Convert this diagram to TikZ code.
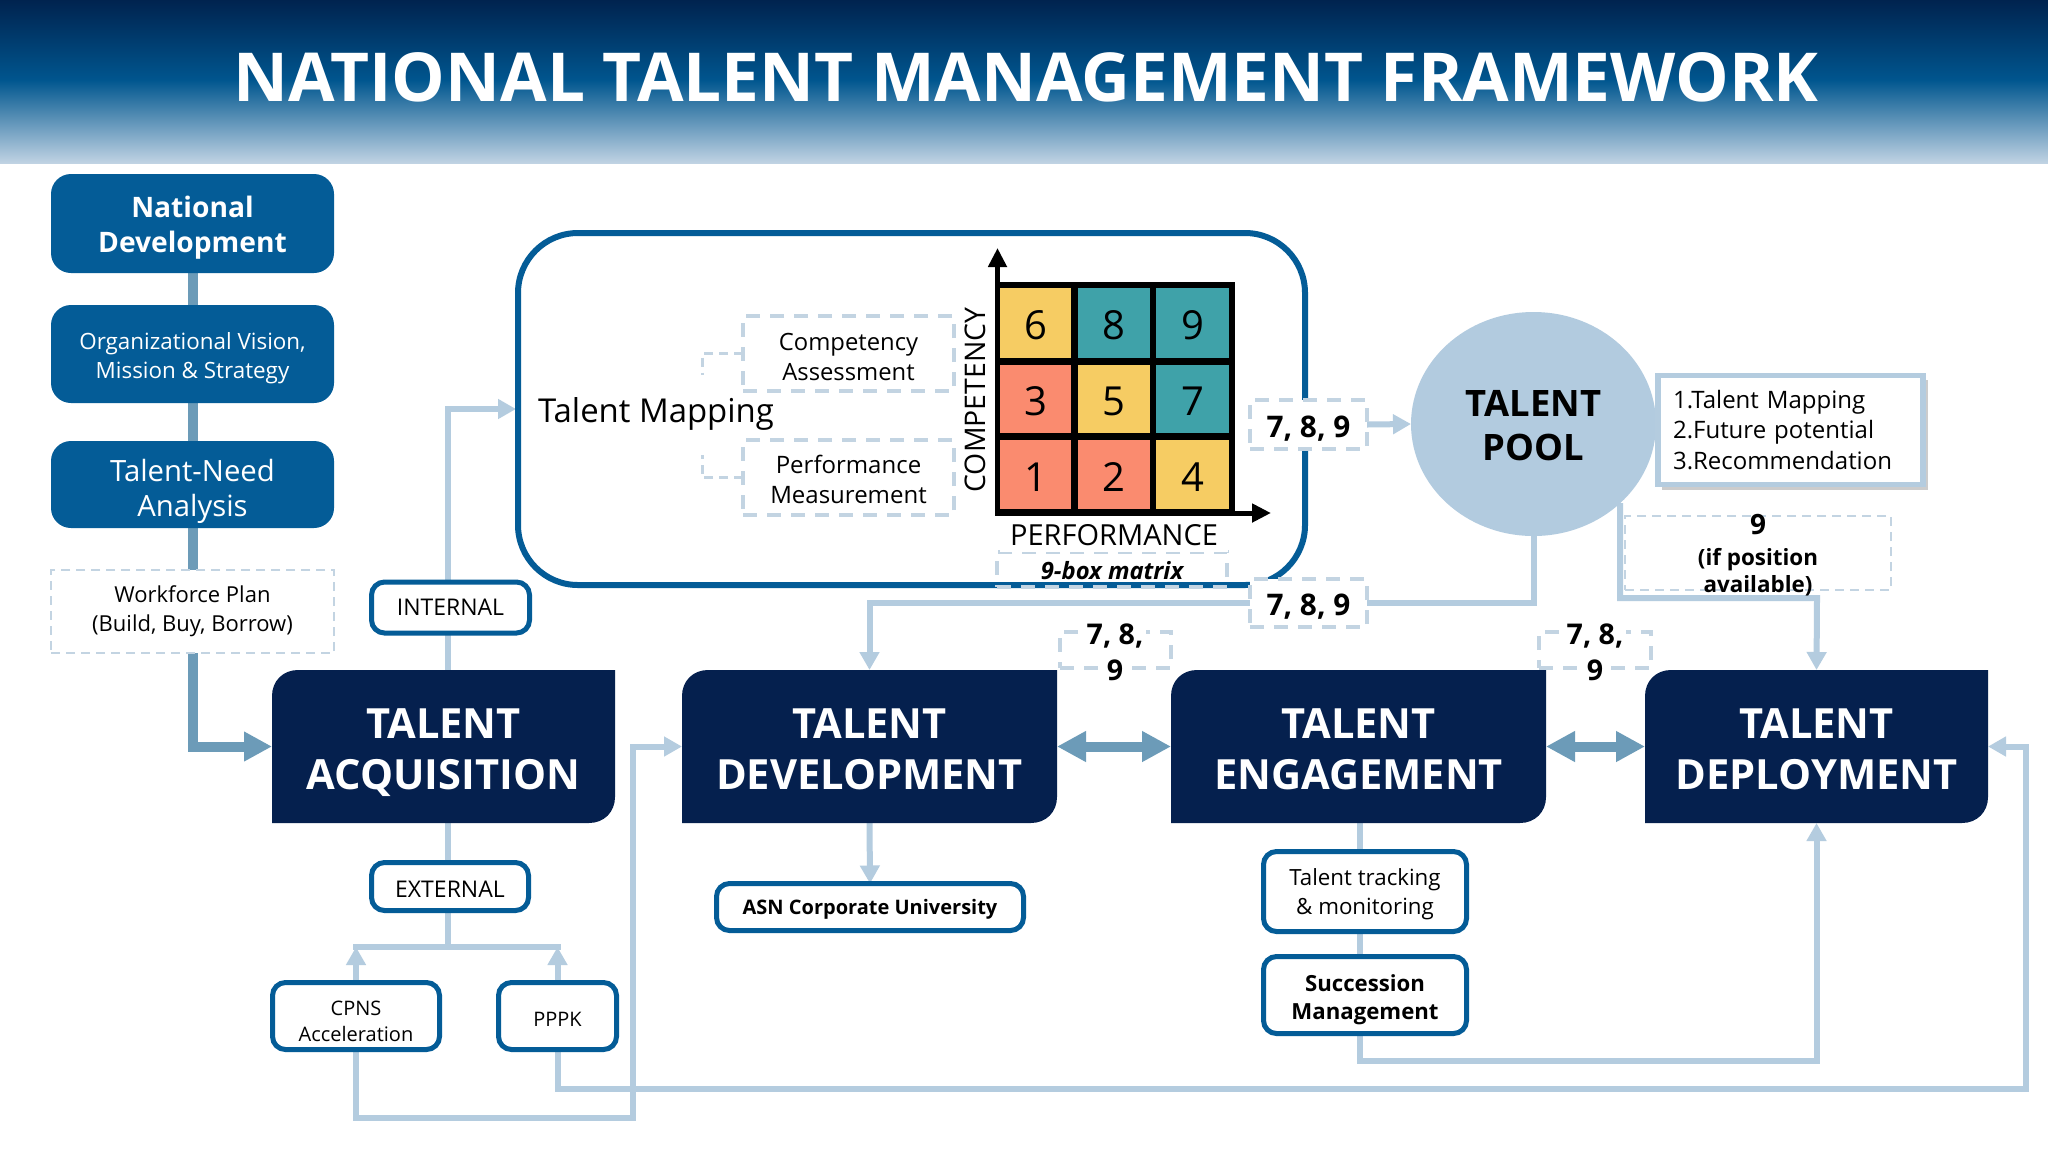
\documentclass[tikz,border=0pt]{standalone}
\usepackage{fontspec}
\setmainfont{Open Sans}
\usetikzlibrary{arrows.meta,shapes.geometric}
\definecolor{navy}{HTML}{05204E}
\definecolor{bluebox}{HTML}{045C97}
\definecolor{lineC}{HTML}{B4CCDF}
\definecolor{midC}{HTML}{6C9BB8}
\definecolor{dashC}{HTML}{C3D4E2}
\definecolor{hTop}{HTML}{00234F}
\definecolor{hMid}{HTML}{00568F}
\definecolor{hBot}{HTML}{C0D3E3}
\definecolor{cellY}{HTML}{F6CC63}
\definecolor{cellT}{HTML}{3FA2A9}
\definecolor{cellS}{HTML}{FA8B6F}
\definecolor{poolC}{HTML}{B2CBDF}
\newcommand\fz[2]{\fontsize{#1}{#2}\selectfont}
% invisible strut: lowers the text of a box by #1
\newcommand\lowr[1]{\rule{0pt}{\dimexpr .76em+#1*2\relax}}
\newcommand\dpth{\rule[-.25em]{0pt}{.25em}}
\newcommand\bx[7][]{\node[inner sep=0pt,outer sep=0pt,align=center,minimum width={(#5-#3)*0.5pt},minimum height={(#6-#4)*0.5pt},#1] (#2) at ({(#3+#5)/2},{(#4+#6)/2}) {#7};}
\newcommand\mainbox[6]{%
  \fill[navy] (#2,#5) -- (#2,{#3+26}) .. controls (#2,{#3+11}) and ({#2+11},#3) .. ({#2+26},#3) -- (#4,#3) -- (#4,{#5-26}) .. controls (#4,{#5-11}) and ({#4-11},#5) .. ({#4-26},#5) -- cycle;
  \bx[mainlabel]{#1}{#2}{#3}{#4}{#5}{#6}}
\newcommand\mcell[6]{\bx[cellbox,fill=#6]{c#1}{#2}{#3}{#4}{#5}{\lowr{0.65pt}#1}}
\pgfdeclarelayer{conn}
\pgfsetlayers{conn,main}
\tikzset{
  bluefill/.style={fill=bluebox,text=white,rounded corners=10pt},
  whitebox/.style={draw=bluebox,fill=white,line width=2.5pt,rounded corners=6.5pt},
  dashthick/.style={draw=dashC,line width=1.75pt,dash pattern=on 7pt off 5pt},
  dashthin/.style={draw=dashC,line width=1pt,dash pattern=on 4.5pt off 3pt},
  mainlabel/.style={text=white,font={\fz{20.8}{25.5}\bfseries}},
  cellbox/.style={font={\fz{20}{24}}},
  conn/.style={draw=lineC,line width=3pt},
  larrow/.style={conn,-{Triangle[length=9pt,width=9.5pt]}},
  stack/.style={draw=midC,line width=5pt},
  dbl/.style={draw=midC,line width=5pt,{Triangle[length=14.5pt,width=14.5pt]}-{Triangle[length=14.5pt,width=14.5pt]}},
  axisarrow/.style={draw=black,line width=2.5pt,-{Triangle[length=9.5pt,width=9pt]}},
  num/.style={font={\fz{14.3}{17.5}\bfseries}},
}
\begin{document}
\begin{tikzpicture}[x=0.5pt,y=-0.5pt]
\useasboundingbox (0,0) rectangle (2048,1152);
% header
\fill[top color=hTop,bottom color=hMid] (0,0) rectangle (2048,81);
\fill[top color=hMid,bottom color=hBot] (0,80) rectangle (2048,163);
\node[text=white,font={\fz{33.75}{40}\bfseries},inner sep=0pt] (title) at (1026,77) {NATIONAL TALENT MANAGEMENT FRAMEWORK};
% left stack
\bx[bluefill,font={\fz{14.1}{17.5}\bfseries}]{nd}{51}{174}{334}{273}{\lowr{2pt}National\\Development}
\bx[bluefill,font={\fz{11.2}{14.4}}]{org}{51}{305}{334}{403}{\lowr{2pt}Organizational Vision,\\Mission \& Strategy}
\bx[bluefill,font={\fz{14.65}{17.5}}]{need}{51}{441}{334}{528}{\lowr{3.2pt}Talent-Need\\Analysis}
\bx[dashthin,fill=white,font={\fz{11}{14.4}}]{wf}{51}{570}{334}{653}{Workforce Plan\\(Build, Buy, Borrow)}
% mapping panel
\bx[draw=bluebox,line width=3pt,rounded corners=30pt,fill=white]{map}{518}{233}{1305}{585}{}
\node[inner sep=0pt,font={\fz{16.45}{20}}] (tm) at (656,414) {Talent Mapping};
\bx[dashthick,font={\fz{11.9}{15}}]{comp}{743}{316}{954}{391}{\lowr{1.3pt}Competency\\Assessment}
\bx[dashthick,font={\fz{12}{15}}]{perf}{743}{440}{954}{515}{\lowr{1pt}Performance\\Measurement}
\coordinate (br1) at (702,375);
\coordinate (br2) at (702,455);
\draw[dashthin,line width=1.5pt] (comp.west) -| (br1);
\draw[dashthin,line width=1.5pt] (perf.west) -| (br2);
% matrix
\bx[fill=black]{m}{995}{282}{1235}{516}{}
\mcell{6}{1000}{288}{1071}{358}{cellY}
\mcell{8}{1078}{288}{1150}{358}{cellT}
\mcell{9}{1156}{288}{1229}{358}{cellT}
\mcell{3}{1000}{365}{1071}{433}{cellS}
\mcell{5}{1078}{365}{1150}{433}{cellY}
\mcell{7}{1156}{365}{1229}{433}{cellT}
\mcell{1}{1000}{440}{1071}{509}{cellS}
\mcell{2}{1078}{440}{1150}{509}{cellS}
\mcell{4}{1156}{440}{1229}{509}{cellY}
\draw[axisarrow] ([xshift=1.25pt]m.north west) -- ++(0,-34);
\draw[axisarrow] ([yshift=1.5pt]m.south east) -- ++(36,0);
\node[rotate=90,inner sep=0pt,font={\fz{14.2}{17}}] (yl) at (975.5,400) {COMPETENCY};
\bx[dashthick,font={\fz{11.9}{14}\bfseries\itshape},text depth=0pt]{nine}{997}{552}{1227}{587}{\lowr{.5pt}9-box matrix}
\bx[fill=white,font={\fz{14.5}{17}}]{xl}{1000}{518}{1228}{552}{PERFORMANCE}
% score boxes
\bx[dashthick,fill=white,font={\fz{14.9}{17}\bfseries}]{sa}{1250}{400}{1367}{449}{\lowr{2pt}7, 8, 9}
\bx[dashthick,fill=white,font={\fz{14.9}{17}\bfseries}]{sb}{1250}{579}{1367}{627}{\lowr{1.3pt}7, 8, 9}
% pool
\node[ellipse,fill=poolC,inner sep=0pt,outer sep=0pt,minimum width=122.5pt,minimum height=112pt,align=center,font={\fz{18.2}{22}\bfseries}] (pool) at (1533.5,424) {\lowr{.65pt}TALENT\\POOL};
\fill[black!20] (1662,380) rectangle (1928,490);
\node[draw=lineC,fill=white,line width=2.75pt,inner sep=0pt,inner xsep=7.5pt,outer sep=0pt,text width=117.5pt,minimum height=54.5pt,align=left,font={\fz{12}{15.4}}] (list) at (1790.5,430) {1.Talent Mapping\\2.Future potential\\3.Recommendation};
\bx[dashthin]{avail}{1625}{516}{1891}{590}{}
\node[inner sep=0pt,align=center,font={\fz{11.2}{13.7}\bfseries}] (availt) at (1758,555) {{\fz{14}{13.7}9}\\[1.8pt](if position\\available)};
% main boxes
\mainbox{acq}{272}{670}{615}{823}{\lowr{3.3pt}TALENT\\ACQUISITION\dpth}
\mainbox{dev}{682}{670}{1057}{823}{\lowr{3.3pt}TALENT\\DEVELOPMENT\dpth}
\mainbox{eng}{1171}{670}{1546}{823}{\lowr{3.3pt}TALENT\\ENGAGEMENT\dpth}
\mainbox{dep}{1645}{670}{1988}{823}{\lowr{3.3pt}TALENT\\DEPLOYMENT\dpth}
% small dashed boxes
\bx[dashthick]{da}{1060}{632}{1171}{668}{}
\node[fill=white,inner sep=1.5pt,num] (dat) at (1115,636) {7, 8,};
\node[fill=white,inner sep=1.5pt,num] (dbt) at (1115,670) {9};
\bx[dashthick]{db}{1539}{632}{1651}{668}{}
\node[fill=white,inner sep=1.5pt,num] (dct) at (1595,636) {7, 8,};
\node[fill=white,inner sep=1.5pt,num] (ddt) at (1595,670) {9};
% white boxes
\bx[whitebox,font={\fz{11.5}{14}}]{int}{371.5}{582}{529.5}{633}{INTERNAL}
\bx[whitebox,font={\fz{11.5}{14}}]{ext}{371.5}{862.5}{528.5}{910.5}{\lowr{1pt}EXTERNAL}
\bx[whitebox,font={\fz{10}{13}}]{cpns}{272.5}{982.5}{439.5}{1049.5}{\lowr{2.6pt}CPNS\\Acceleration}
\bx[whitebox,font={\fz{10}{13}}]{pppk}{498.5}{982.5}{616.5}{1049.5}{\lowr{1.3pt}PPPK}
\bx[whitebox,font={\fz{10}{13}\bfseries}]{asn}{716.5}{883.5}{1023.5}{930.5}{\lowr{1.3pt}ASN Corporate University}
\bx[whitebox,font={\fz{11.15}{14.5}}]{track}{1263.5}{851.5}{1466.5}{931.5}{\lowr{1.3pt}Talent tracking\\\& monitoring}
\bx[whitebox,font={\fz{11.1}{14}\bfseries}]{succ}{1263.5}{956.5}{1466.5}{1033.5}{\lowr{2.6pt}Succession\\Management}
% connector anchors
\coordinate (acqtop) at (448,670);
\coordinate (acqbot) at (448,823);
\coordinate (jl) at (356,947);
\coordinate (jr) at (557.5,947);
\coordinate (cb) at (633,1118);
\coordinate (pb) at (2026,1089);
\coordinate (engb) at (1360,823);
\coordinate (eb) at (1816.5,1061);
\coordinate (pa) at (1817,598);
\begin{pgfonlayer}{conn}
\fill[white] (0,0) rectangle (2048,1152);
\draw[stack] (nd.south) -- (org.north);
\draw[stack] (org.south) -- (need.north);
\draw[stack] (need.south) -- (wf.north);
\draw[stack,-{Triangle[length=14pt,width=14pt]}] (wf.south) |- (acq.west);
\draw[larrow,shorten >=1pt] (acqtop) |- (map.west);
\draw[conn] (acqbot) -- (acqbot |- jl);
\draw[conn,line cap=rect] (jl) -- (jr);
\draw[larrow] (cpns.north) -- (jl);
\draw[larrow] (pppk.north) -- (jr);
\draw[larrow] (cpns.south) |- (cb) |- (dev.west);
\draw[larrow] (pppk.south) |- (pb) |- (dep.east);
\draw[larrow] (dev.south) -- (asn.north);
\draw[larrow] (engb) |- (eb) -- (dep.south);
\draw[conn] (sa.west) -- (sa.west -| m.east);
\draw[larrow] (sa.east) -- (pool.west);
\draw[conn] (pool.south) |- (sb.east);
\draw[larrow] (sb.west) -| (dev.north);
\draw[larrow] (pool.south east) |- (pa) -- (dep.north);
\draw[dbl] (dev.east) -- (eng.west);
\draw[dbl] (eng.east) -- (dep.west);
\end{pgfonlayer}
\end{tikzpicture}
\end{document}
